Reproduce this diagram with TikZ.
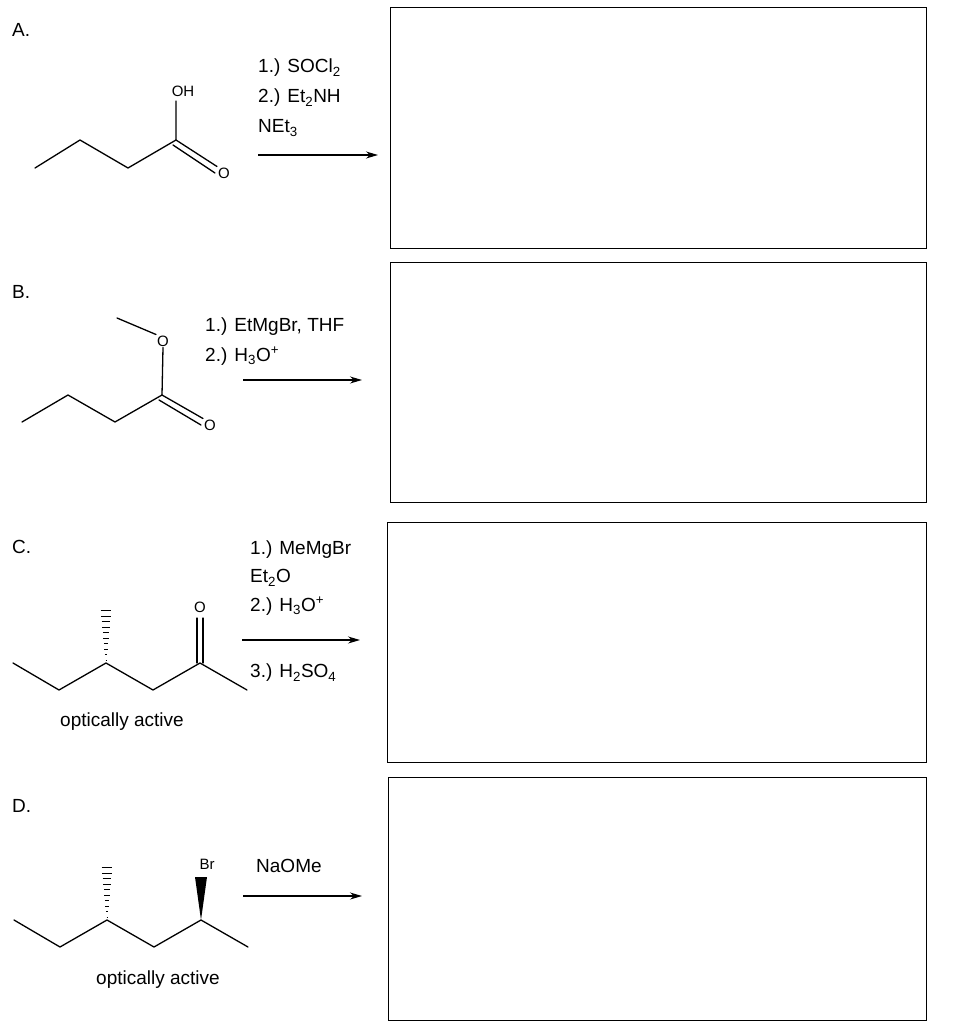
\documentclass[tikz,border=0pt]{standalone}
\usepackage{fontspec}
\setmainfont{Liberation Sans}
\usetikzlibrary{calc,arrows.meta}
\newcommand{\sbs}[1]{\textsubscript{#1}}
\newcommand{\sps}[1]{\textsuperscript{#1}}
\begin{document}
\begin{tikzpicture}[x=1pt,y=-1pt,
  bond/.style={line width=1.3pt,line cap=round,line join=round},
  box/.style={draw,line width=1.2pt},
  rxn/.style={-{Stealth[length=12pt,width=7pt]},line width=1.2pt},
  lbl/.style={font=\fontsize{19}{22}\selectfont,anchor=west,inner sep=0},
  atom/.style={font=\fontsize{15}{17}\selectfont,inner sep=1pt}]
\useasboundingbox (0,0) rectangle (968,1024);
% A
\node[lbl] (la) at (12,30) {A.};
\node[atom] (Aoh) at (183,91) {OH};
\node[atom] (Ao) at (224,173) {O};
\draw[bond] (35,168) -- (80,140) -- (128,168) -- (176,140) -- (176,101);
\draw[bond] (176,140) -- (Ao.north west);
\draw[bond] (173,145) -- ($(Ao.west)+(-2,0)$);
\node[lbl] (ra1) at (258,68) {1.) SOCl\sbs{2}};
\node[lbl] (ra2) at (258,98) {2.) Et\sbs{2}NH};
\node[lbl] (ra3) at (258,128) {NEt\sbs{3}};
\coordinate (aa) at (258,155); \coordinate (ab) at (378,155);
\draw[rxn] (aa) -- (ab);
\node[box,minimum width=536,minimum height=241,anchor=north west] (bA) at (390,7) {};
% B
\node[lbl] (lb) at (12,292) {B.};
\node[atom] (Bo1) at (163,341) {O};
\node[atom] (Bo) at (210,425) {O};
\draw[bond] (22,422) -- (68,395) -- (115,422) -- (162,395) -- (Bo1.south);
\draw[bond] (117,318) -- (Bo1.north west);
\draw[bond] (162,395) -- (Bo.north west);
\draw[bond] (159,400) -- ($(Bo.west)+(-2,0)$);
\node[lbl] (rb1) at (205,327) {1.) EtMgBr, THF};
\node[lbl] (rb2) at (205,356) {2.) H\sbs{3}O\sps{+}};
\coordinate (ba) at (243,380); \coordinate (bb) at (362,380);
\draw[rxn] (ba) -- (bb);
\node[box,minimum width=536,minimum height=240,anchor=north west] (bB) at (390,262) {};
% C
\node[lbl] (lc) at (12,547) {C.};
\node[atom] (Co) at (200,607) {O};
\draw[bond] (13,663) -- (59,690) -- (106,663) -- (153,690) -- (200,663) -- (247,690);
\draw[bond] (197,663) -- (197,618); \draw[bond] (203,663) -- (203,618);
\foreach \i in {0,...,9} \draw[line width=1pt] ({106-0.5-0.55*\i},{660-5.5*\i}) -- ({106+0.5+0.55*\i},{660-5.5*\i});
\node[lbl] (rc1) at (250,550) {1.) MeMgBr};
\node[lbl] (rc2) at (250,578) {Et\sbs{2}O};
\node[lbl] (rc3) at (250,606) {2.) H\sbs{3}O\sps{+}};
\node[lbl] (rc4) at (250,673) {3.) H\sbs{2}SO\sbs{4}};
\coordinate (ca) at (242,640); \coordinate (cb) at (360,640);
\draw[rxn] (ca) -- (cb);
\node[font=\fontsize{19}{22}\selectfont] (oa1) at (122,722) {optically active};
\node[box,minimum width=539,minimum height=240,anchor=north west] (bC) at (387,522) {};
% D
\node[lbl] (ld) at (12,806) {D.};
\draw[bond] (14,920) -- (60,947) -- (107,920) -- (154,947) -- (201,920) -- (248,947);
\foreach \i in {0,...,9} \draw[line width=1pt] ({107-0.5-0.55*\i},{917-5.5*\i}) -- ({107+0.5+0.55*\i},{917-5.5*\i});
\fill (201,920) -- (195,877) -- (207,877) -- cycle;
\node[atom] (Dbr) at (207,864) {Br};
\node[lbl] (rd1) at (256,866) {NaOMe};
\coordinate (da) at (243,896); \coordinate (db) at (362,896);
\draw[rxn] (da) -- (db);
\node[font=\fontsize{19}{22}\selectfont] (oa2) at (158,980) {optically active};
\node[box,minimum width=538,minimum height=243,anchor=north west] (bD) at (388,777) {};
\end{tikzpicture}
\end{document}
